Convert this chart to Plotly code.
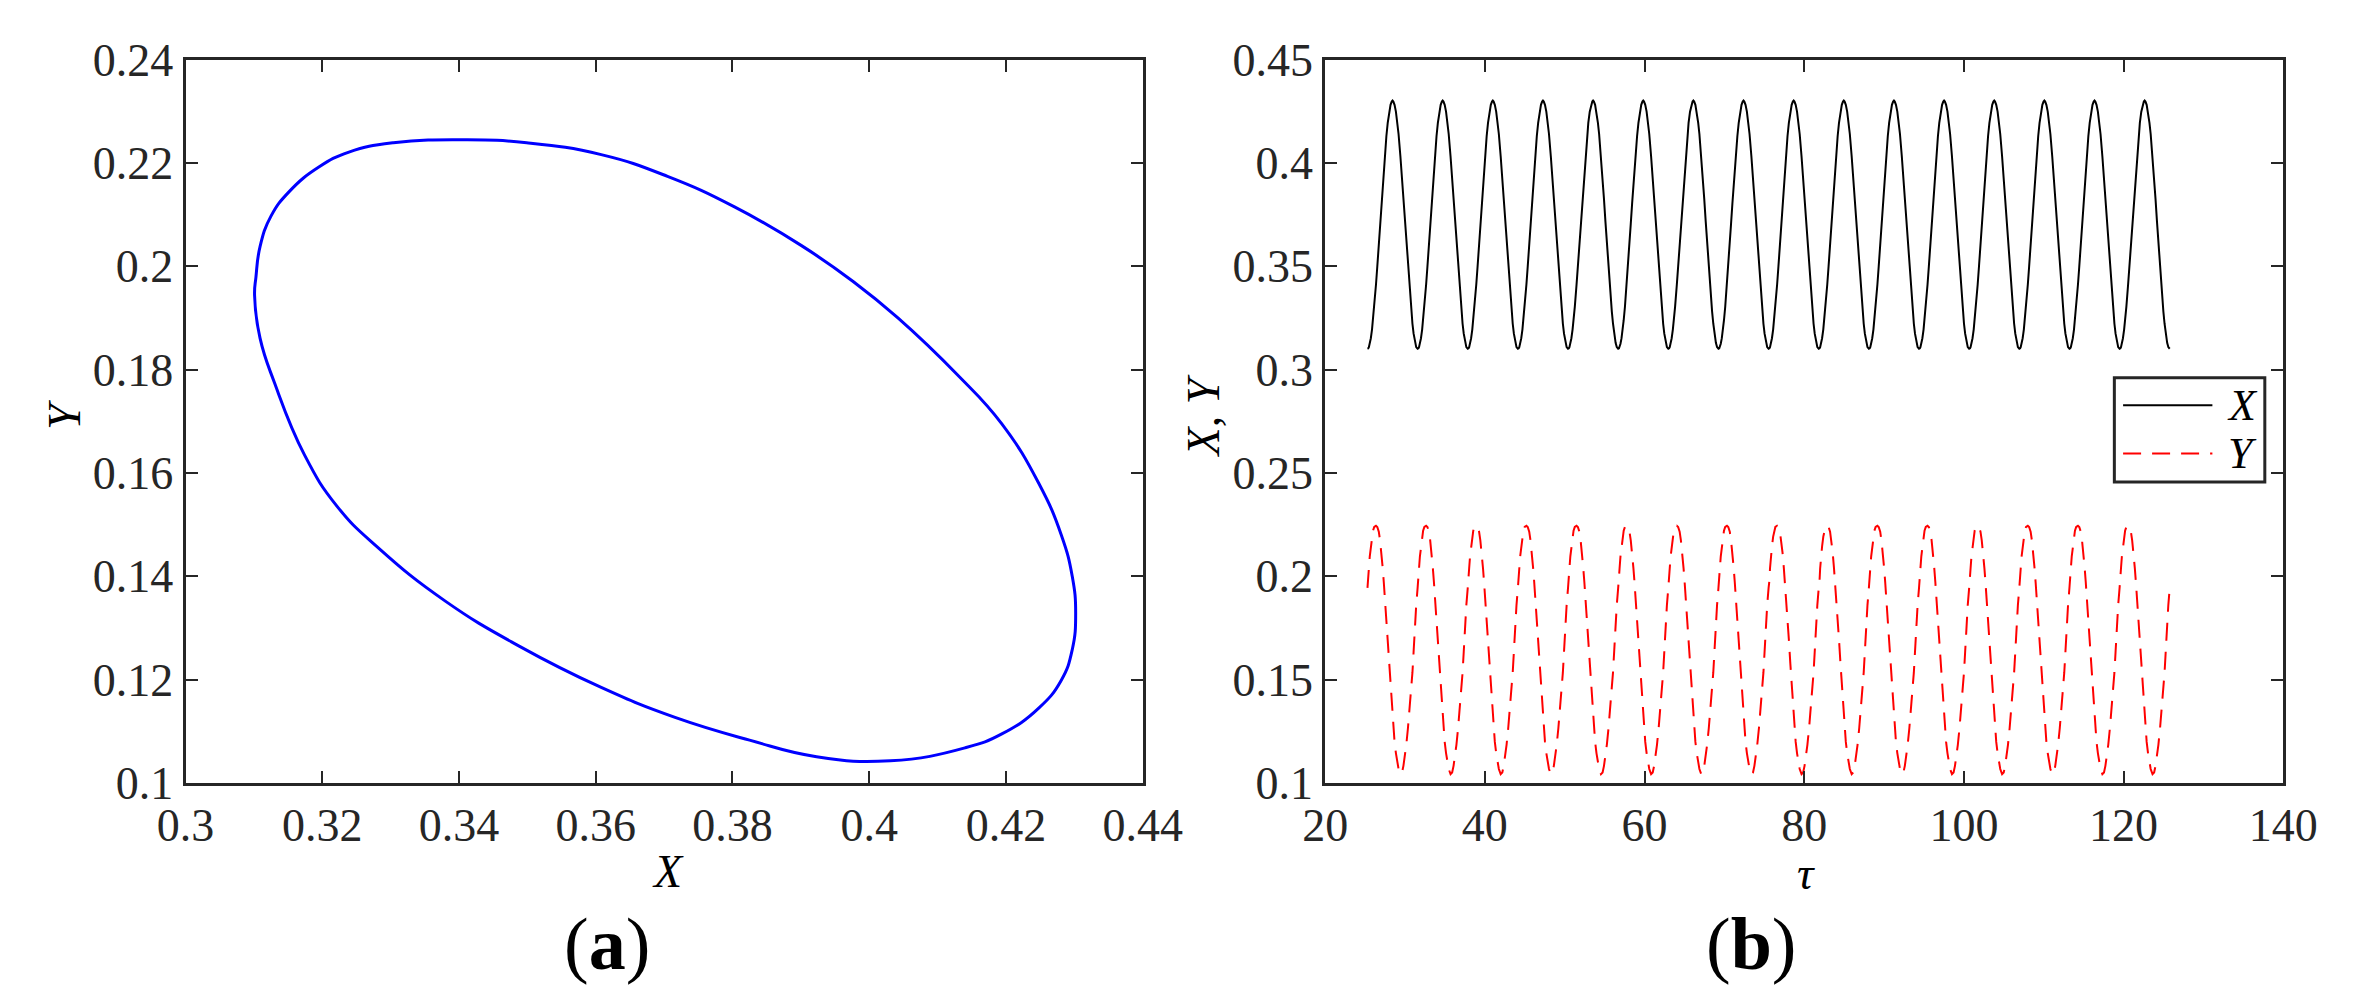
import plotly.graph_objects as go

# one loop of the limit cycle, in time order
cycle_x = [0.3101, 0.3103, 0.3109, 0.3125, 0.3152, 0.3195, 0.3239, 0.3304, 0.3412, 0.3499,
           0.3608, 0.3705, 0.3803, 0.3901, 0.3977, 0.4042, 0.4129, 0.4194, 0.4248, 0.4281,
           0.4297, 0.4302, 0.4297, 0.4281, 0.4248, 0.4194, 0.4140, 0.4031, 0.3923, 0.3825,
           0.3716, 0.3608, 0.3488, 0.3380, 0.3282, 0.3222, 0.3174, 0.3130, 0.3109]
cycle_y = [0.1944, 0.1979, 0.2038, 0.2097, 0.2145, 0.2192, 0.2221, 0.2239, 0.2245, 0.2239,
           0.2216, 0.2174, 0.2115, 0.2040, 0.1970, 0.1900, 0.1790, 0.1695, 0.1580, 0.1480,
           0.1400, 0.1329, 0.1258, 0.1199, 0.1145, 0.1095, 0.1068, 0.1043, 0.1051, 0.1083,
           0.1127, 0.1185, 0.1265, 0.1352, 0.1455, 0.1535, 0.1635, 0.1775, 0.1861]
# fraction of the period at which each point is reached
cycle_phase = [0.000, 0.016, 0.028, 0.046, 0.067, 0.091, 0.110, 0.135, 0.170, 0.196,
               0.226, 0.251, 0.278, 0.304, 0.326, 0.346, 0.377, 0.404, 0.433, 0.460,
               0.484, 0.500, 0.516, 0.540, 0.567, 0.596, 0.620, 0.657, 0.689, 0.717,
               0.746, 0.774, 0.807, 0.840, 0.873, 0.897, 0.920, 0.949, 0.972]

tau_start = 25.3
period = 6.28
n_cycles = 16

x_ticks = [0.3, 0.32, 0.34, 0.36, 0.38, 0.4, 0.42, 0.44]
y_ticks_a = [0.1, 0.12, 0.14, 0.16, 0.18, 0.2, 0.22, 0.24]
tau_ticks = [20, 40, 60, 80, 100, 120, 140]
y_ticks_b = [0.1, 0.15, 0.2, 0.25, 0.3, 0.35, 0.4, 0.45]

# time series: the same loop repeated over the simulated time span
tau, xs, ys = [], [], []
for k in range(n_cycles):
    for p, a, b in zip(cycle_phase, cycle_x, cycle_y):
        tau.append(tau_start + period * (k + p))
        xs.append(a)
        ys.append(b)
tau.append(tau_start + period * n_cycles)
xs.append(cycle_x[0])
ys.append(cycle_y[0])

W, H = 2357, 1008
FONT = "Liberation Serif, Times New Roman, serif"
DARK = "#262626"


def px(v):
    return v / W


def py(v):
    return 1 - v / H


fig = go.Figure()

fig.add_trace(go.Scatter(
    x=cycle_x + cycle_x[:1], y=cycle_y + cycle_y[:1],
    mode="lines", line=dict(color="#0000FF", width=3, shape="spline", smoothing=1.3),
    xaxis="x", yaxis="y", showlegend=False
))
fig.add_trace(go.Scatter(
    x=tau, y=xs, mode="lines", line=dict(color="#000000", width=2),
    xaxis="x2", yaxis="y2", showlegend=False
))
fig.add_trace(go.Scatter(
    x=tau, y=ys, mode="lines", line=dict(color="#FF0000", width=2, dash="18px,11px"),
    xaxis="x2", yaxis="y2", showlegend=False
))

axis_common = dict(
    showgrid=False, zeroline=False, showline=True, linewidth=3, linecolor=DARK,
    mirror="ticks", ticks="inside", ticklen=12, tickwidth=2, tickcolor=DARK,
    tickfont=dict(family=FONT, size=46, color=DARK)
)

fig.update_layout(
    width=W, height=H,
    margin=dict(l=0, r=0, t=0, b=0),
    font=dict(family=FONT, color=DARK),
    paper_bgcolor="white", plot_bgcolor="white",
    showlegend=False,
    xaxis=dict(domain=[px(153), px(1139)], range=[0.3, 0.44], tickvals=x_ticks,
               ticktext=[f"{v:g}" for v in x_ticks], anchor="y", **axis_common),
    yaxis=dict(domain=[py(790), py(28)], range=[0.1, 0.24], tickvals=y_ticks_a,
               ticktext=[f"{v:g}" for v in y_ticks_a], anchor="x", **axis_common),
    xaxis2=dict(domain=[px(1327), px(2314)], range=[20, 140], tickvals=tau_ticks,
                anchor="y2", **axis_common),
    yaxis2=dict(domain=[py(790), py(28)], range=[0.1, 0.45], tickvals=y_ticks_b,
                ticktext=[f"{v:g}" for v in y_ticks_b], anchor="x2", **axis_common),
)

# axis titles and panel labels
labels = [
    ("<i>X</i>", 650, 883, 0, 46),
    ("<i>Y</i>", 29, 402, -90, 46),
    ("<i>τ</i>", 1822, 885, 0, 46),
    ("<i>X</i>, <i>Y</i>", 1202, 403, -90, 46),
    ("(<b>a</b>)", 587, 960, 0, 74),
    ("(<b>b</b>)", 1766, 960, 0, 74),
]
for text, lx, ly, ang, size in labels:
    fig.add_annotation(text=text, x=px(lx), y=py(ly), xref="paper", yref="paper",
                       showarrow=False, textangle=ang, xanchor="center", yanchor="middle",
                       font=dict(family=FONT, size=size, color="black"))

# legend box drawn by hand to match the long sample lines
fig.add_shape(type="rect", xref="paper", yref="paper",
              x0=px(2140), x1=px(2295), y0=py(473), y1=py(363),
              line=dict(color=DARK, width=3), fillcolor="white", layer="above")
fig.add_shape(type="line", xref="paper", yref="paper",
              x0=px(2149), x1=px(2241), y0=py(392), y1=py(392),
              line=dict(color="black", width=2), layer="above")
fig.add_shape(type="line", xref="paper", yref="paper",
              x0=px(2149), x1=px(2241), y0=py(443), y1=py(443),
              line=dict(color="#FF0000", width=2, dash="18px,11px"), layer="above")
for text, ly in [("<i>X</i>", 392), ("<i>Y</i>", 443)]:
    fig.add_annotation(text=text, x=px(2272), y=py(ly), xref="paper", yref="paper",
                       showarrow=False, xanchor="center", yanchor="middle",
                       font=dict(family=FONT, size=44, color="black"))

fig.write_html("out.html")
